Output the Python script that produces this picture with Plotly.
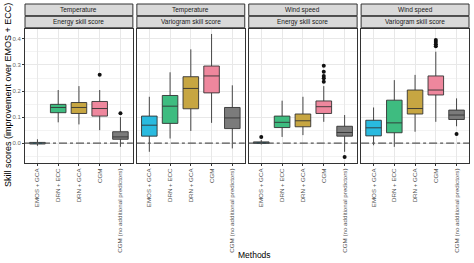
import plotly.graph_objects as go

methods = ["EMOS + GCA", "DRN + ECC", "DRN + GCA", "CGM", "CGM (no additional predictors)"]
colors = ["#29BADF", "#3EBC80", "#C7A642", "#EE879D", "#7B7B7B"]
panel_var = ["Temperature", "Temperature", "Wind speed", "Wind speed"]
panel_score = ["Energy skill score", "Variogram skill score", "Energy skill score", "Variogram skill score"]

# per panel, per method: lower whisker, q1, median, q3, upper whisker
lower = [
    [-0.010, 0.080, 0.072, 0.050, -0.014],
    [-0.033, 0.018, 0.047, 0.078, -0.020],
    [-0.005, 0.024, 0.031, 0.082, -0.033],
    [-0.008, -0.014, 0.044, 0.082, 0.065],
]
q1 = [
    [-0.003, 0.117, 0.114, 0.104, 0.015],
    [0.027, 0.076, 0.132, 0.193, 0.056],
    [-0.001, 0.060, 0.063, 0.114, 0.027],
    [0.028, 0.040, 0.112, 0.185, 0.091],
]
median = [
    [0.000, 0.137, 0.137, 0.133, 0.024],
    [0.069, 0.142, 0.210, 0.258, 0.097],
    [0.002, 0.080, 0.086, 0.140, 0.041],
    [0.059, 0.078, 0.133, 0.204, 0.108],
]
q3 = [
    [0.003, 0.149, 0.156, 0.160, 0.044],
    [0.104, 0.183, 0.255, 0.296, 0.137],
    [0.005, 0.104, 0.112, 0.162, 0.065],
    [0.088, 0.165, 0.204, 0.258, 0.127],
]
upper = [
    [0.015, 0.204, 0.219, 0.204, 0.100],
    [0.178, 0.272, 0.360, 0.419, 0.222],
    [0.012, 0.163, 0.178, 0.219, 0.108],
    [0.137, 0.242, 0.262, 0.351, 0.172],
]
# outliers: (panel, method index, value)
out_panel = [0, 0, 2, 2, 2, 2, 2, 2, 2, 3, 3, 3, 3, 3]
out_method = [3, 4, 0, 3, 3, 3, 3, 3, 4, 3, 3, 3, 3, 4]
out_value = [0.263, 0.115, 0.024, 0.297, 0.274, 0.258, 0.249, 0.236, -0.053, 0.396, 0.388, 0.380, 0.372, 0.035]

W, H = 474, 263
L, R, T, B = 25, 4.5, 3, 100
pw = W - L - R
ph = H - T - B
panels_px = [(25, 133), (137, 245), (249, 357.5), (361.5, 469.5)]
ydom_top_px = 28.5  # top of panel area in px
ydom_top = (H - B - ydom_top_px) / ph

fig = go.Figure()
shapes = []
annotations = []
for p in range(4):
    xa = "x" if p == 0 else f"x{p+1}"
    ya = "y" if p == 0 else f"y{p+1}"
    for m in range(5):
        fig.add_trace(go.Box(
            x=[methods[m]], q1=[q1[p][m]], median=[median[p][m]], q3=[q3[p][m]],
            lowerfence=[lower[p][m]], upperfence=[upper[p][m]],
            fillcolor=colors[m], line=dict(color="#333333", width=0.9),
            width=0.75, whiskerwidth=0, boxpoints=False, showlegend=False,
            xaxis=xa, yaxis=ya, hoverinfo="skip"))
    ox = [methods[out_method[i]] for i in range(len(out_value)) if out_panel[i] == p]
    oy = [out_value[i] for i in range(len(out_value)) if out_panel[i] == p]
    if ox:
        fig.add_trace(go.Scatter(x=ox, y=oy, mode="markers",
                                 marker=dict(color="#111111", size=4),
                                 showlegend=False, xaxis=xa, yaxis=ya))
    x0, x1 = panels_px[p]
    d0 = (x0 - L) / pw
    d1 = (x1 - L) / pw
    axname = "xaxis" if p == 0 else f"xaxis{p+1}"
    yname = "yaxis" if p == 0 else f"yaxis{p+1}"
    fig.layout[axname] = dict(
        domain=[d0, d1], anchor=ya, type="category", categoryorder="array",
        categoryarray=methods, range=[-0.6, 4.6], tickangle=-90,
        tickfont=dict(size=6.2, color="#555555", family="Liberation Sans"),
        showgrid=True, gridcolor="#E8E8E8", gridwidth=1,
        showline=True, mirror=True, linecolor="#333333", linewidth=1,
        ticks="outside", ticklen=2, tickcolor="#333333", zeroline=False)
    fig.layout[yname] = dict(
        domain=[0, ydom_top], anchor=xa, range=[-0.076, 0.44],
        tickvals=[0, 0.1, 0.2, 0.3, 0.4], ticktext=["0.0", "0.1", "0.2", "0.3", "0.4"],
        showticklabels=(p == 0),
        tickfont=dict(size=6, color="#666666", family="Liberation Sans"),
        showgrid=True, gridcolor="#E8E8E8", gridwidth=1,
        minor=dict(tickvals=[-0.05, 0.05, 0.15, 0.25, 0.35], showgrid=True, gridcolor="#F3F3F3", gridwidth=0.6),
        showline=True, mirror=True, linecolor="#333333", linewidth=1,
        ticks="outside" if p == 0 else "", ticklen=2, tickcolor="#333333", zeroline=False)
    # dash-dot reference line
    shapes.append(dict(type="line", xref=f"{xa} domain", yref=ya, x0=0, x1=1, y0=0, y1=0,
                       line=dict(color="#555555", width=1.2, dash="8px,3px,3px,3px"), layer="above"))
    # strips
    s2 = ((H - B - 27.8) / ph, (H - B - 16.3) / ph)
    s1 = ((H - B - 15.7) / ph, (H - B - 4) / ph)
    for (y0, y1), txt in [(s1, panel_var[p]), (s2, panel_score[p])]:
        shapes.append(dict(type="rect", xref="paper", yref="paper", x0=d0, x1=d1, y0=y0, y1=y1,
                           fillcolor="#D9D9D9", line=dict(color="#333333", width=1), layer="below"))
        annotations.append(dict(x=(d0 + d1) / 2, y=(y0 + y1) / 2, xref="paper", yref="paper",
                                xanchor="center", yanchor="middle",
                                text=txt, showarrow=False,
                                font=dict(size=6.5, color="#1A1A1A", family="Liberation Sans")))

annotations.append(dict(x=(255 - L) / pw, y=(H - B - 255) / ph, xref="paper", yref="paper",
                        xanchor="center", yanchor="middle",
                        text="Methods", showarrow=False,
                        font=dict(size=8.5, color="#000000", family="Liberation Sans")))
annotations.append(dict(x=(8 - L) / pw, y=(H - B - 95) / ph, xref="paper", yref="paper",
                        xanchor="center", yanchor="middle",
                        text="Skill scores (improvement over EMOS + ECC)", showarrow=False, textangle=-90,
                        font=dict(size=9, color="#000000", family="Liberation Sans")))

fig.update_layout(width=W, height=H, margin=dict(l=L, r=R, t=T, b=B),
                  paper_bgcolor="white", plot_bgcolor="white",
                  shapes=shapes, annotations=annotations, boxgap=0)
fig.write_html("out.html")
